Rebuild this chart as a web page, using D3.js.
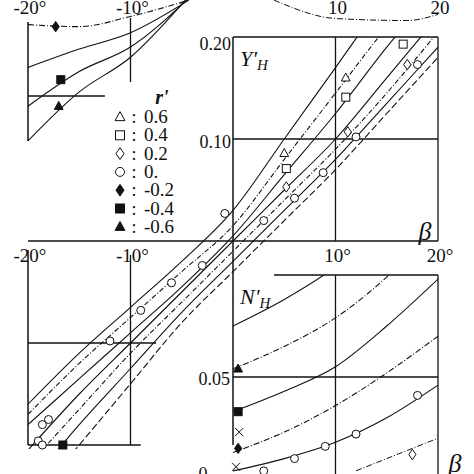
<!DOCTYPE html>
<html><head><meta charset="utf-8">
<script src="https://cdn.jsdelivr.net/npm/d3@7"></script>
<style>body{margin:0;background:#fff}text{font-family:"Liberation Serif","DejaVu Serif",serif;fill:#111}</style>
</head><body><div id="chart"></div>
<script>
// Y'H curves, one row per r', values at betaGrid
let betaGrid = [-20, -15, -10, -5, 0, 5, 10, 15, 20];
let rValues = ["0.6", "0.4", "0.2", "0.", "-0.2", "-0.4", "-0.6"];
let yCurves = [
  [-0.16, -0.11, -0.065, -0.02, 0.03, 0.10, 0.17, 0.24, 0.30],
  [-0.17, -0.12, -0.075, -0.03, 0.015, 0.08, 0.145, 0.21, 0.27],
  [-0.18, -0.135, -0.09, -0.045, 0.005, 0.065, 0.125, 0.19, 0.25],
  [-0.205, -0.15, -0.10, -0.05, 0.0, 0.05, 0.10, 0.16, 0.22],
  [-0.22, -0.165, -0.11, -0.06, -0.01, 0.04, 0.09, 0.145, 0.205],
  [-0.24, -0.18, -0.125, -0.07, -0.02, 0.03, 0.08, 0.135, 0.19],
  [-0.26, -0.20, -0.14, -0.08, -0.03, 0.02, 0.07, 0.125, 0.18]
];
// measured Y'H points [beta, Y', symbol]
let yPoints = [
  [-0.8, 0.027, "circle"], [3, 0.02, "circle"], [6, 0.042, "circle"], [8.8, 0.067, "circle"],
  [12, 0.102, "circle"], [18, 0.173, "circle"], [-3, -0.024, "circle"], [-6, -0.041, "circle"],
  [-9, -0.068, "circle"], [-12, -0.098, "circle"], [-18, -0.175, "circle"], [-18.6, -0.18, "circle"],
  [-19, -0.196, "circle"], [-18.6, -0.2, "circle"],
  [5, 0.086, "triangle"], [11, 0.16, "triangle"],
  [5.2, 0.071, "square"], [11, 0.141, "square"], [16.6, 0.193, "square"],
  [5.2, 0.053, "diamond"], [11.2, 0.107, "diamond"], [17, 0.173, "diamond"],
  [-16.6, -0.2, "squareF"]
];
// N'H curves, lower right panel (beta >= 0)
let nBeta = [0, 5, 10, 15, 20];
let nCurves = [
  [0.004, 0.010, 0.018, 0.030, 0.046],
  [0.013, 0.023, 0.036, 0.052, 0.070],
  [0.033, 0.043, 0.055, 0.075, 0.098],
  [0.054, 0.065, 0.079, 0.099, 0.125],
  [0.075, 0.088, 0.104, 0.125, 0.150]
];
let nDashed = [[12, 0.004], [16, 0.012], [20, 0.020]];
let nPoints = [
  [3, 0.004, "circle"], [6, 0.010, "circle"], [9, 0.016, "circle"], [12, 0.022, "circle"],
  [18, 0.041, "circle"], [17.5, 0.012, "diamond"],
  [0.5, 0.054, "triangleF"], [0.5, 0.033, "squareF"], [0.6, 0.023, "cross"],
  [0.5, 0.015, "diamondF"], [0.3, 0.006, "cross"]
];
// N'H curves, upper left panel (beta <= 0, drawn downward)
let nTopBeta = [-20, -15, -10, -4.3];
let nTopCurves = [
  [0.015, 0.016, 0.011, 0.003],
  [0.036, 0.027, 0.019, 0.003],
  [0.055, 0.038, 0.026, 0.002],
  [0.072, 0.048, 0.031, 0.001]
];
let nTopPoints = [[-17.3, 0.016, "diamondF"], [-16.8, 0.042, "squareF"], [-17.0, 0.055, "triangleF"]];
let legendSymbols = ["triangle", "square", "diamond", "circle", "diamondF", "squareF", "triangleF"];

let W = 474, H = 474;
let svg = d3.select("#chart").append("svg").attr("width", W).attr("height", H);

let x = d3.scaleLinear().domain([-20, 20]).range([28, 438]);
let yY = d3.scaleLinear().domain([-0.2, 0.2]).range([445, 37]);
let yN = d3.scaleLinear().domain([0, 0.1]).range([479, 275]);
let yT = d3.scaleLinear().domain([0, 0.1]).range([-6, 198]);

let ln = (x1, y1, x2, y2, w) => svg.append("line").attr("x1", x1).attr("y1", y1).attr("x2", x2).attr("y2", y2)
  .attr("stroke", "#111").attr("stroke-width", w || 1.3);

// frames and grid
ln(x(-20), 241, x(20), 241, 1.5);
ln(x(0), yY(0.2), x(0), yY(-0.2), 1.5);
ln(x(0), yY(0.2), x(20), yY(0.2));
ln(x(20), yY(0.2), x(20), 241);
ln(x(10), yY(0.2), x(10), 241);
ln(x(0), yY(0.1), x(20), yY(0.1));
ln(x(-20), 250, x(-20), yY(-0.2), 1.5);
ln(x(-20), yY(-0.2), x(-9), yY(-0.2), 1.5);
ln(x(-10), 255, x(-10), yY(-0.2));
ln(x(-20), yY(-0.1), x(-7.5), yY(-0.1));
// N' lower right
ln(x(4), yN(0.1), x(20), yN(0.1), 1.5);
ln(x(20), yN(0.1), x(20), H);
ln(x(10), yN(0.1), x(10), H);
ln(x(0), yN(0.05), x(20), yN(0.05));
// N' upper left
ln(x(-20), 22, x(-20), yT(0.072), 1.5);
ln(x(-10), 18, x(-10), 82);
ln(x(-20), yT(0.05), x(-12.5), yT(0.05));

svg.append("clipPath").attr("id", "cl").append("rect")
  .attr("x", x(-20)).attr("y", yY(0.2)).attr("width", x(20) - x(-20)).attr("height", yY(-0.2) - yY(0.2) + 4);
let g = svg.append("g").attr("clip-path", "url(#cl)");
let dashes = [null, "5,2,1,2", null, null, "5,2,1,2", null, "7,3"];

let lineY = d3.line().x(d => x(d[0])).y(d => yY(d[1])).curve(d3.curveMonotoneX);
yCurves.forEach((c, i) => {
  let pts = betaGrid.map((b, j) => [b, c[j]]);
  g.append("path").attr("d", lineY(pts)).attr("fill", "none").attr("stroke", "#111")
    .attr("stroke-width", 1.1).attr("stroke-dasharray", dashes[i]);
});

let lineN = d3.line().x(d => x(d[0])).y(d => yN(d[1])).curve(d3.curveMonotoneX);
let gN = svg.append("g");
gN.append("clipPath").attr("id", "cn").append("rect").attr("x", x(0)).attr("y", yN(0.1)).attr("width", x(20) - x(0)).attr("height", 300);
nCurves.forEach((c, i) => {
  gN.append("path").attr("clip-path", "url(#cn)").attr("d", lineN(nBeta.map((b, j) => [b, c[j]])))
    .attr("fill", "none").attr("stroke", "#111").attr("stroke-width", 1.1).attr("stroke-dasharray", i % 2 ? "6,2,1,2" : null);
});
gN.append("path").attr("d", lineN(nDashed)).attr("fill", "none").attr("stroke", "#111").attr("stroke-dasharray", "6,2,1,2");

let lineT = d3.line().x(d => x(d[0])).y(d => yT(d[1])).curve(d3.curveMonotoneX);
nTopCurves.forEach((c, i) => {
  svg.append("path").attr("d", lineT(nTopBeta.map((b, j) => [b, c[j]])))
    .attr("fill", "none").attr("stroke", "#111").attr("stroke-width", 1.1).attr("stroke-dasharray", i == 0 ? "6,2,1,2" : null);
});
// short dashed curves top right
svg.append("path").attr("d", lineT([[4, 0.003], [10, 0.012], [17, 0.013], [20, 0.010]]))
  .attr("fill", "none").attr("stroke", "#111").attr("stroke-dasharray", "6,2,1,2");
svg.append("path").attr("d", lineT([[3, 0.002], [8, 0.0]])).attr("fill", "none").attr("stroke", "#111");

function marker(sel, type, px, py, s) {
  s = s || 4;
  let filled = type.endsWith("F");
  let t = type.replace("F", "");
  let el;
  if (t === "circle") el = sel.append("circle").attr("cx", px).attr("cy", py).attr("r", s);
  else if (t === "square") el = sel.append("rect").attr("x", px - s).attr("y", py - s).attr("width", 2 * s).attr("height", 2 * s);
  else if (t === "diamond") el = sel.append("path").attr("d", `M${px},${py - s * 1.3}L${px + s * 0.9},${py}L${px},${py + s * 1.3}L${px - s * 0.9},${py}Z`);
  else if (t === "triangle") el = sel.append("path").attr("d", `M${px},${py - s * 1.2}L${px + s * 1.1},${py + s * 0.8}L${px - s * 1.1},${py + s * 0.8}Z`);
  else { sel.append("path").attr("d", `M${px - s},${py - s}L${px + s},${py + s}M${px - s},${py + s}L${px + s},${py - s}`).attr("stroke", "#111"); return; }
  el.attr("fill", filled ? "#111" : "#fff").attr("stroke", "#111").attr("stroke-width", 1);
}
yPoints.forEach(p => marker(svg, p[2], x(p[0]), yY(p[1])));
nPoints.forEach(p => marker(svg, p[2], x(p[0]), yN(p[1])));
nTopPoints.forEach(p => marker(svg, p[2], x(p[0]), yT(p[1])));

// texts
let txt = (s, px, py, size, anchor, style) => svg.append("text").attr("x", px).attr("y", py).attr("font-size", size)
  .attr("text-anchor", anchor || "middle").attr("font-style", style || null).text(s);
[["-20°", -20], ["-10°", -10], ["10°", 10], ["20°", 20]].forEach(d => txt(d[0], x(d[1]) + 2, 262, 19));
[["-20°", -20], ["-10°", -10], ["10", 10], ["20", 20]].forEach(d => txt(d[0], x(d[1]) + 2, 14, 19));
txt("0.20", 231, 50, 18, "end");
txt("0.10", 231, 148, 18, "end");
txt("0.05", 230, 385, 18, "end");
txt("0", 203, 480, 18);
let yl = txt("Y'", 240, 66, 22, "start", "italic"); yl.append("tspan").attr("font-size", 15).attr("dy", 4).text("H");
let nl = txt("N'", 240, 304, 22, "start", "italic"); nl.append("tspan").attr("font-size", 15).attr("dy", 4).text("H");
txt("β", 425, 240, 26, "middle", "italic");
txt("β", 455, 472, 26, "middle", "italic");
txt("r'", 162, 104, 20, "middle", "italic").attr("font-weight", "bold");
rValues.forEach((r, i) => {
  let py = 117 + i * 18.3;
  marker(svg, legendSymbols[i], 120, py, 4.5);
  txt(":", 134, py + 6, 18);
  txt(r, 144, py + 6, 19, "start");
});
</script></body></html>
